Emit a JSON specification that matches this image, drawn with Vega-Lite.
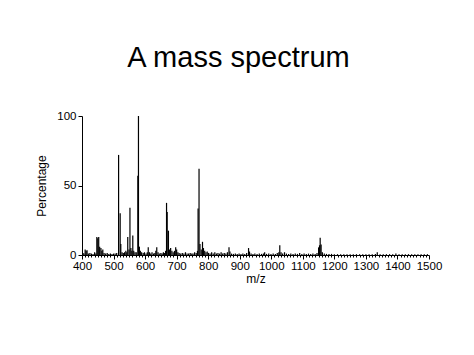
{
  "$schema": "https://vega.github.io/schema/vega-lite/v6.json",
  "autosize": "none",
  "width": 347,
  "height": 139,
  "padding": {"left": 82, "top": 116, "right": 45, "bottom": 100},
  "background": "white",
  "title": {
    "text": "A mass spectrum",
    "font": "Liberation Sans",
    "fontSize": 29,
    "fontWeight": "normal",
    "color": "black",
    "frame": "group",
    "anchor": "middle",
    "baseline": "alphabetic",
    "offset": 14,
    "dx": -17
  },
  "config": {
    "view": {"stroke": null},
    "axis": {
      "labelFont": "Liberation Sans",
      "titleFont": "Liberation Sans",
      "labelColor": "black",
      "titleColor": "black",
      "domainColor": "black",
      "tickColor": "black",
      "grid": false,
      "titleFontWeight": "normal",
      "labelFontSize": 11.5,
      "titleFontSize": 12
    }
  },
  "data": {
    "values": [
      {"mz": 403, "pct": 1.5}, {"mz": 406, "pct": 1}, {"mz": 410, "pct": 4}, {"mz": 413, "pct": 3}, {"mz": 416, "pct": 3.5},
      {"mz": 420, "pct": 1}, {"mz": 425, "pct": 1.5}, {"mz": 430, "pct": 1}, {"mz": 435, "pct": 0.8}, {"mz": 440, "pct": 2},
      {"mz": 444, "pct": 1}, {"mz": 447, "pct": 13}, {"mz": 450, "pct": 12}, {"mz": 453, "pct": 13}, {"mz": 456, "pct": 6},
      {"mz": 460, "pct": 5}, {"mz": 463, "pct": 3}, {"mz": 466, "pct": 4}, {"mz": 470, "pct": 1.5}, {"mz": 475, "pct": 1},
      {"mz": 480, "pct": 1.5}, {"mz": 485, "pct": 0.8}, {"mz": 490, "pct": 1}, {"mz": 495, "pct": 0.8}, {"mz": 500, "pct": 1},
      {"mz": 505, "pct": 1}, {"mz": 510, "pct": 1.5}, {"mz": 516, "pct": 72}, {"mz": 521, "pct": 30}, {"mz": 523, "pct": 8},
      {"mz": 527, "pct": 2}, {"mz": 531, "pct": 1.5}, {"mz": 535, "pct": 2}, {"mz": 539, "pct": 3}, {"mz": 542, "pct": 2},
      {"mz": 545, "pct": 13}, {"mz": 549, "pct": 4}, {"mz": 552, "pct": 34}, {"mz": 555, "pct": 5}, {"mz": 558, "pct": 3},
      {"mz": 561, "pct": 14}, {"mz": 564, "pct": 3}, {"mz": 568, "pct": 2}, {"mz": 572, "pct": 2}, {"mz": 577, "pct": 57},
      {"mz": 579, "pct": 100}, {"mz": 582, "pct": 6}, {"mz": 585, "pct": 3}, {"mz": 589, "pct": 2}, {"mz": 594, "pct": 1.5},
      {"mz": 598, "pct": 2}, {"mz": 603, "pct": 1}, {"mz": 607, "pct": 2}, {"mz": 610, "pct": 5.5}, {"mz": 614, "pct": 2},
      {"mz": 618, "pct": 1}, {"mz": 622, "pct": 2}, {"mz": 627, "pct": 1}, {"mz": 631, "pct": 1.5}, {"mz": 634, "pct": 3},
      {"mz": 637, "pct": 5.5}, {"mz": 641, "pct": 2}, {"mz": 645, "pct": 1}, {"mz": 650, "pct": 1.5}, {"mz": 654, "pct": 1},
      {"mz": 658, "pct": 2}, {"mz": 662, "pct": 1.5}, {"mz": 665, "pct": 3}, {"mz": 668, "pct": 37.5}, {"mz": 670, "pct": 31},
      {"mz": 674, "pct": 17.5}, {"mz": 677, "pct": 4}, {"mz": 681, "pct": 5}, {"mz": 685, "pct": 3}, {"mz": 689, "pct": 2},
      {"mz": 693, "pct": 3}, {"mz": 697, "pct": 5.5}, {"mz": 700, "pct": 4}, {"mz": 704, "pct": 2}, {"mz": 708, "pct": 1.5},
      {"mz": 713, "pct": 1}, {"mz": 718, "pct": 1.5}, {"mz": 723, "pct": 1}, {"mz": 728, "pct": 2}, {"mz": 733, "pct": 1},
      {"mz": 738, "pct": 1}, {"mz": 743, "pct": 1.5}, {"mz": 748, "pct": 1}, {"mz": 752, "pct": 1}, {"mz": 757, "pct": 2},
      {"mz": 762, "pct": 1.5}, {"mz": 766, "pct": 3}, {"mz": 768, "pct": 33.5}, {"mz": 771, "pct": 62}, {"mz": 774, "pct": 8},
      {"mz": 778, "pct": 4}, {"mz": 782, "pct": 9.5}, {"mz": 785, "pct": 5}, {"mz": 789, "pct": 3}, {"mz": 793, "pct": 2},
      {"mz": 797, "pct": 2.5}, {"mz": 801, "pct": 1.5}, {"mz": 806, "pct": 1}, {"mz": 811, "pct": 2}, {"mz": 816, "pct": 1},
      {"mz": 821, "pct": 2}, {"mz": 826, "pct": 1}, {"mz": 831, "pct": 1.5}, {"mz": 836, "pct": 1}, {"mz": 841, "pct": 2},
      {"mz": 846, "pct": 1}, {"mz": 851, "pct": 1.5}, {"mz": 856, "pct": 1}, {"mz": 861, "pct": 2}, {"mz": 866, "pct": 5.5},
      {"mz": 869, "pct": 2.5}, {"mz": 874, "pct": 1}, {"mz": 880, "pct": 0.8}, {"mz": 886, "pct": 1}, {"mz": 892, "pct": 0.8},
      {"mz": 898, "pct": 1}, {"mz": 904, "pct": 0.8}, {"mz": 910, "pct": 1}, {"mz": 916, "pct": 0.8}, {"mz": 922, "pct": 1.5},
      {"mz": 928, "pct": 5}, {"mz": 931, "pct": 2.5}, {"mz": 936, "pct": 1}, {"mz": 942, "pct": 0.8}, {"mz": 948, "pct": 1},
      {"mz": 955, "pct": 0.8}, {"mz": 962, "pct": 1}, {"mz": 969, "pct": 0.8}, {"mz": 975, "pct": 1}, {"mz": 979, "pct": 2},
      {"mz": 985, "pct": 0.8}, {"mz": 992, "pct": 1}, {"mz": 999, "pct": 0.8}, {"mz": 1006, "pct": 1}, {"mz": 1013, "pct": 0.8},
      {"mz": 1019, "pct": 1.5}, {"mz": 1024, "pct": 2}, {"mz": 1027, "pct": 7}, {"mz": 1031, "pct": 2}, {"mz": 1036, "pct": 1},
      {"mz": 1042, "pct": 2}, {"mz": 1048, "pct": 1}, {"mz": 1055, "pct": 0.8}, {"mz": 1062, "pct": 1}, {"mz": 1069, "pct": 0.8},
      {"mz": 1076, "pct": 1}, {"mz": 1083, "pct": 0.8}, {"mz": 1090, "pct": 1.5}, {"mz": 1097, "pct": 0.8}, {"mz": 1104, "pct": 1},
      {"mz": 1111, "pct": 0.8}, {"mz": 1118, "pct": 1}, {"mz": 1125, "pct": 0.8}, {"mz": 1132, "pct": 1}, {"mz": 1139, "pct": 0.8},
      {"mz": 1145, "pct": 1.5}, {"mz": 1150, "pct": 5.5}, {"mz": 1153, "pct": 7}, {"mz": 1155, "pct": 12.5}, {"mz": 1158, "pct": 7.5},
      {"mz": 1162, "pct": 2}, {"mz": 1168, "pct": 1}, {"mz": 1175, "pct": 0.8}, {"mz": 1183, "pct": 0.8}, {"mz": 1191, "pct": 0.8},
      {"mz": 1200, "pct": 0.6}, {"mz": 1210, "pct": 0.6}, {"mz": 1220, "pct": 0.6}, {"mz": 1230, "pct": 0.6}, {"mz": 1240, "pct": 0.6},
      {"mz": 1250, "pct": 0.6}, {"mz": 1260, "pct": 0.6}, {"mz": 1270, "pct": 0.6}, {"mz": 1280, "pct": 0.6}, {"mz": 1290, "pct": 0.6},
      {"mz": 1300, "pct": 0.6}, {"mz": 1310, "pct": 0.6}, {"mz": 1320, "pct": 0.6}, {"mz": 1330, "pct": 0.8}, {"mz": 1336, "pct": 2},
      {"mz": 1345, "pct": 0.6}, {"mz": 1355, "pct": 0.6}, {"mz": 1365, "pct": 0.6}, {"mz": 1375, "pct": 0.6}, {"mz": 1385, "pct": 0.6},
      {"mz": 1395, "pct": 1}, {"mz": 1405, "pct": 0.6}, {"mz": 1415, "pct": 0.6}, {"mz": 1425, "pct": 0.6}, {"mz": 1435, "pct": 0.6},
      {"mz": 1445, "pct": 0.6}, {"mz": 1455, "pct": 0.6}, {"mz": 1465, "pct": 0.6}, {"mz": 1475, "pct": 0.6}, {"mz": 1485, "pct": 0.6},
      {"mz": 1495, "pct": 0.6}
    ]
  },
  "mark": {"type": "rule", "color": "black", "strokeWidth": 1.2},
  "encoding": {
    "x": {
      "field": "mz",
      "type": "quantitative",
      "scale": {"domain": [400, 1500], "nice": false, "zero": false},
      "axis": {
        "title": "m/z",
        "values": [400,410,420,430,440,450,460,470,480,490,500,510,520,530,540,550,560,570,580,590,600,610,620,630,640,650,660,670,680,690,700,710,720,730,740,750,760,770,780,790,800,810,820,830,840,850,860,870,880,890,900,910,920,930,940,950,960,970,980,990,1000,1010,1020,1030,1040,1050,1060,1070,1080,1090,1100,1110,1120,1130,1140,1150,1160,1170,1180,1190,1200,1210,1220,1230,1240,1250,1260,1270,1280,1290,1300,1310,1320,1330,1340,1350,1360,1370,1380,1390,1400,1410,1420,1430,1440,1450,1460,1470,1480,1490,1500],
        "labelExpr": "datum.value % 100 === 0 ? datum.label : ''",
        "labelOverlap": false,
        "labelFlush": false,
        "format": "d",
        "tickSize": {"condition": {"test": "datum.value % 100 === 0", "value": 4}, "value": 2},
        "labelPadding": 1,
        "titlePadding": 2
      }
    },
    "y": {
      "field": "pct",
      "type": "quantitative",
      "scale": {"domain": [0, 100], "nice": false},
      "axis": {
        "title": "Percentage",
        "values": [0, 50, 100],
        "tickSize": 4,
        "labelPadding": 2,
        "titlePadding": 8
      }
    },
    "y2": {"datum": 0}
  }
}
